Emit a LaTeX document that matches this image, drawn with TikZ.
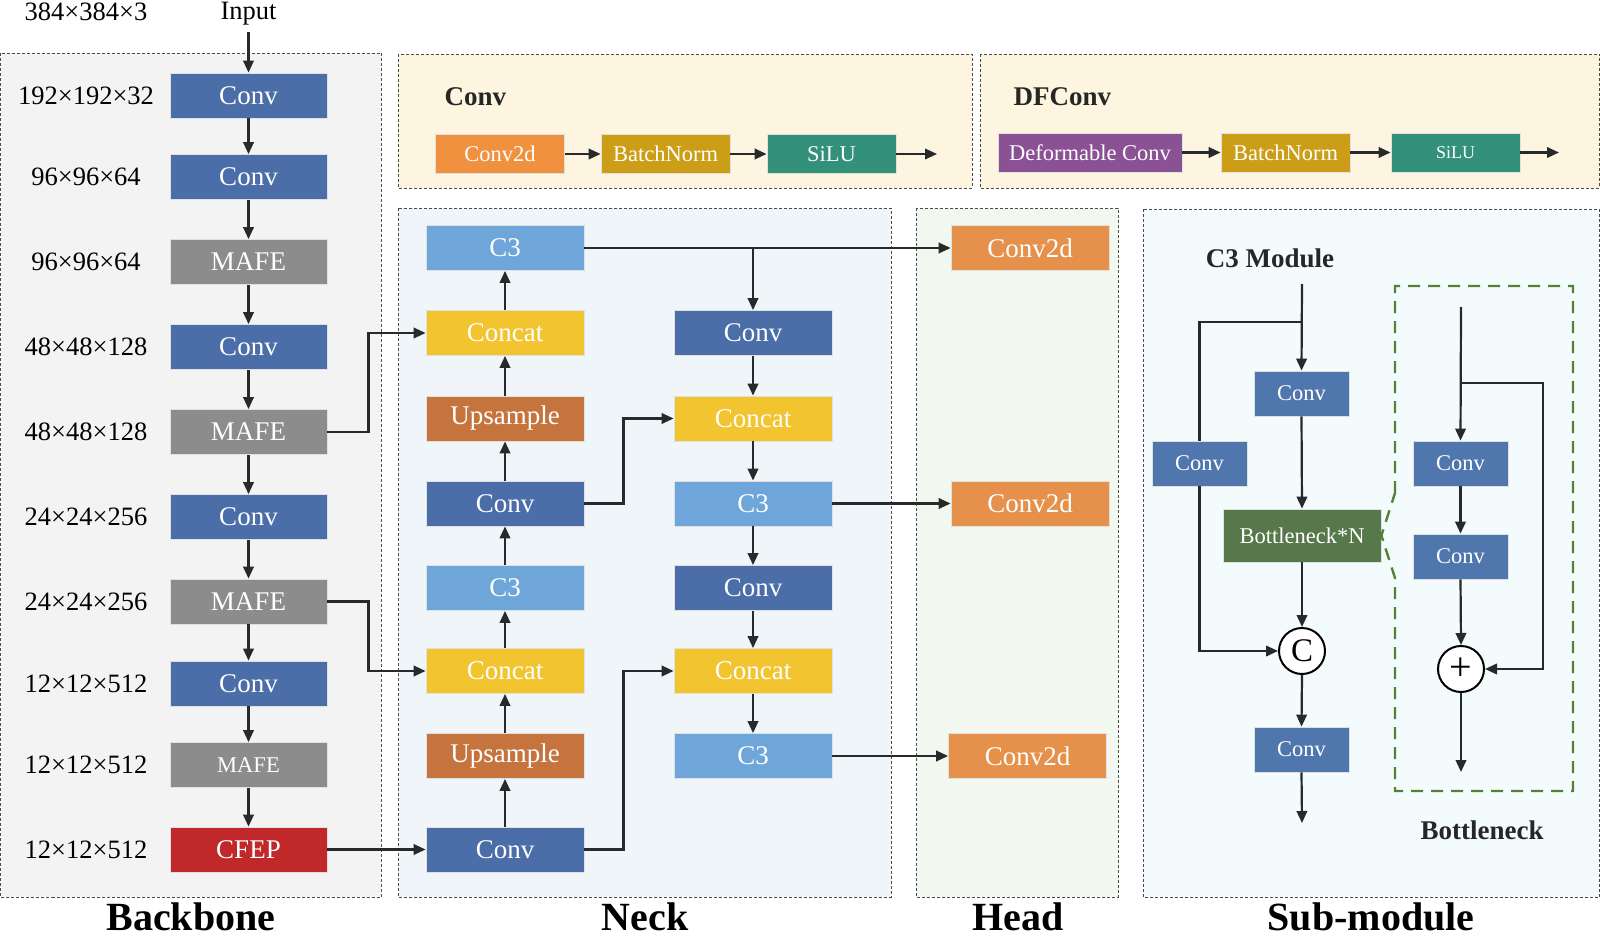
\documentclass[tikz,border=0pt]{standalone}
\usepackage{fontspec}
\setmainfont{Liberation Serif}
\usetikzlibrary{arrows.meta,calc}
\definecolor{convblue}{HTML}{4B6DA8}
\definecolor{subblue}{HTML}{5077AD}
\definecolor{mafegray}{HTML}{8C8C8C}
\definecolor{cfepred}{HTML}{C1282A}
\definecolor{cthree}{HTML}{6FA6D9}
\definecolor{concaty}{HTML}{F2C430}
\definecolor{upsamp}{HTML}{C5743D}
\definecolor{headorange}{HTML}{E6914B}
\definecolor{topconv}{HTML}{F0913F}
\definecolor{bnorm}{HTML}{CC9E18}
\definecolor{siluc}{HTML}{33907A}
\definecolor{deform}{HTML}{8B5195}
\definecolor{bneckg}{HTML}{56784A}
\definecolor{dashg}{HTML}{548235}
\definecolor{linec}{HTML}{262A2A}
\definecolor{bbfill}{HTML}{F3F3F3}
\definecolor{neckfill}{HTML}{F0F5FA}
\definecolor{headfill}{HTML}{F2F7EF}
\definecolor{subfill}{HTML}{F3FBFC}
\definecolor{topfill}{HTML}{FEF5E0}
\newcommand{\myfs}[1]{\fontsize{#1}{#1}\selectfont}
\tikzset{
  box/.style={rectangle, inner sep=0pt, minimum width=157pt, minimum height=45pt,
    text=white, draw=black!12, line width=0.8pt, font=\myfs{27}},
  nbox/.style={box, minimum width=158pt},
  sbox/.style={box, fill=subblue, minimum width=95pt, minimum height=45pt, font=\myfs{22.5}},
  tbox/.style={box, minimum width=129pt, minimum height=39pt, font=\myfs{22.5}},
  ar/.style={-{Triangle[length=12pt,width=10.5pt]}, line width=2.2pt, draw=linec},
  ln/.style={line width=2.2pt, draw=linec},
  panel/.style={draw=black!70, dash pattern=on 3pt off 2pt, line width=0.8pt},
  dimlab/.style={font=\myfs{26.5}, text=black},
  title/.style={font=\bfseries\myfs{27}, text=black!85},
  biglab/.style={font=\bfseries\myfs{40}, anchor=base, text depth=0pt},
  circ/.style={circle, draw=black, line width=2pt, fill=white, minimum size=46pt, inner sep=0pt},
}
\begin{document}
\begin{tikzpicture}[x=1pt,y=-1pt]
\useasboundingbox (0,0) rectangle (1600,941);
% panels
\draw[panel, fill=bbfill] (0.5,53) rectangle (381,897);
\draw[panel, fill=topfill] (398,54) rectangle (972,188);
\draw[panel, fill=topfill] (980,54) rectangle (1599.5,188);
\draw[panel, fill=neckfill] (398,208) rectangle (891,897);
\draw[panel, fill=headfill] (916,208) rectangle (1118,897);
\draw[panel, fill=subfill] (1143,209) rectangle (1599.5,897);

% ---------- Backbone ----------
\node[font=\myfs{26.5}, anchor=base] (inlab) at (248.5,20) {Input};
\node[dimlab, anchor=base] (d0) at (86,21) {384×384×3};
\coordinate (inp) at (248.5,32);
\node[box, fill=convblue] (b1) at (248.5,95.5) {Conv};
\node[box, fill=convblue] (b2) at (248.5,177) {Conv};
\node[box, fill=mafegray] (b3) at (248.5,262) {MAFE};
\node[box, fill=convblue] (b4) at (248.5,347) {Conv};
\node[box, fill=mafegray] (b5) at (248.5,432) {MAFE};
\node[box, fill=convblue] (b6) at (248.5,517) {Conv};
\node[box, fill=mafegray] (b7) at (248.5,601.5) {MAFE};
\node[box, fill=convblue] (b8) at (248.5,683.5) {Conv};
\node[box, fill=mafegray, font=\myfs{22.5}] (b9) at (248.5,765) {MAFE};
\node[box, fill=cfepred] (b10) at (248.5,849.5) {CFEP};
\node[dimlab] (d1) at (86,95.5) {192×192×32};
\node[dimlab] (d2) at (86,177) {96×96×64};
\node[dimlab] (d3) at (86,262) {96×96×64};
\node[dimlab] (d4) at (86,347) {48×48×128};
\node[dimlab] (d5) at (86,432) {48×48×128};
\node[dimlab] (d6) at (86,517) {24×24×256};
\node[dimlab] (d7) at (86,601.5) {24×24×256};
\node[dimlab] (d8) at (86,683.5) {12×12×512};
\node[dimlab] (d9) at (86,765) {12×12×512};
\node[dimlab] (d10) at (86,849.5) {12×12×512};
\draw[ar] (inp) -- (b1.north);
\foreach \a/\b in {b1/b2,b2/b3,b3/b4,b4/b5,b5/b6,b6/b7,b7/b8,b8/b9,b9/b10}
  \draw[ar] (\a.south) -- (\b.north);

% ---------- Top panels ----------
\node[title, anchor=west] (tconv) at (441,97) {Conv};
\node[tbox, fill=topconv] (tc1) at (500,154) {Conv2d};
\node[tbox, fill=bnorm] (tc2) at (665.5,154) {BatchNorm};
\node[tbox, fill=siluc] (tc3) at (831.5,154) {SiLU};
\coordinate (tcout) at (937,154);
\draw[ar] (tc1.east) -- (tc2.west);
\draw[ar] (tc2.east) -- (tc3.west);
\draw[ar] (tc3.east) -- (tcout);

\node[title, anchor=west] (tdf) at (1010,97) {DFConv};
\node[tbox, fill=deform, minimum width=184pt] (td1) at (1090,152.5) {Deformable Conv};
\node[tbox, fill=bnorm] (td2) at (1285.5,152.5) {BatchNorm};
\node[tbox, fill=siluc, font=\myfs{18}] (td3) at (1455.5,152.5) {SiLU};
\coordinate (tdout) at (1559,152.5);
\draw[ar] (td1.east) -- (td2.west);
\draw[ar] (td2.east) -- (td3.west);
\draw[ar] (td3.east) -- (tdout);

% ---------- Neck ----------
\node[nbox, fill=cthree] (lc3a) at (505,248) {C3};
\node[nbox, fill=concaty] (lcat1) at (505,333) {Concat};
\node[nbox, fill=upsamp] (lup1) at (505,418.5) {Upsample};
\node[nbox, fill=convblue] (lconv1) at (505,503.5) {Conv};
\node[nbox, fill=cthree] (lc3b) at (505,588) {C3};
\node[nbox, fill=concaty] (lcat2) at (505,671) {Concat};
\node[nbox, fill=upsamp] (lup2) at (505,756) {Upsample};
\node[nbox, fill=convblue] (lconv0) at (505,849.5) {Conv};

\node[nbox, fill=convblue] (rconv1) at (753,333) {Conv};
\node[nbox, fill=concaty] (rcat1) at (753,418.5) {Concat};
\node[nbox, fill=cthree] (rc3a) at (753,503.5) {C3};
\node[nbox, fill=convblue] (rconv2) at (753,588) {Conv};
\node[nbox, fill=concaty] (rcat2) at (753,671) {Concat};
\node[nbox, fill=cthree] (rc3b) at (753,756) {C3};

\foreach \a/\b in {lconv0/lup2,lup2/lcat2,lcat2/lc3b,lc3b/lconv1,lconv1/lup1,lup1/lcat1,lcat1/lc3a}
  \draw[ar] (\a.north) -- (\b.south);
\foreach \a/\b in {rconv1/rcat1,rcat1/rc3a,rc3a/rconv2,rconv2/rcat2,rcat2/rc3b}
  \draw[ar] (\a.south) -- (\b.north);

\draw[ar] (b10.east) -- (lconv0.west);
\draw[ar] (b5.east) -- ++(41,0) |- (lcat1.west);
\draw[ar] (b7.east) -- ++(41,0) |- (lcat2.west);
\draw[ar] (lconv1.east) -- ++(39,0) |- (rcat1.west);
\draw[ar] (lconv0.east) -- ++(39,0) |- (rcat2.west);

% ---------- Head ----------
\node[nbox, fill=headorange] (h1) at (1030,248) {Conv2d};
\node[nbox, fill=headorange] (h2) at (1030,503.5) {Conv2d};
\node[nbox, fill=headorange] (h3) at (1027.5,756) {Conv2d};
\draw[ar] (lc3a.east) -- (h1.west);
\draw[ar] (rconv1.north |- lc3a.east) -- (rconv1.north);
\draw[ar] (rc3a.east) -- (h2.west);
\draw[ar] (rc3b.east) -- (h3.west);

% ---------- Sub-module: C3 ----------
\node[title] (c3t) at (1270,258) {C3 Module};
\coordinate (c3in) at (1302,284);
\coordinate (c3br) at (1302,322);
\coordinate (c3out) at (1302,823);
\node[sbox] (sc1) at (1301.5,393.5) {Conv};
\node[sbox] (sc2) at (1199.5,463.5) {Conv};
\node[box, fill=bneckg, minimum width=158pt, minimum height=53pt, font=\myfs{22.5}] (sbn) at (1302,535.5) {Bottleneck*N};
\node[circ, font=\myfs{33}] (scC) at (1302,651) {C};
\node[sbox] (sc3) at (1301.5,749.5) {Conv};
\draw[ar] (c3in) -- (sc1.north);
\draw[ln] (c3br) -| (sc2.north);
\draw[ar] (sc2.south) |- (scC.west);
\draw[ar] (sc1.south) -- (sbn.north);
\draw[ar] (sbn.south) -- (scC.north);
\draw[ar] (scC.south) -- (sc3.north);
\draw[ar] (sc3.south) -- (c3out);

% ---------- Sub-module: Bottleneck ----------
\draw[dashg, line width=2.4pt, dash pattern=on 12pt off 8pt]
  (1395,493) -- (1395,286) -- (1573,286) -- (1573,791) -- (1395,791) -- (1395,578) -- (sbn.east) -- cycle;
\coordinate (bin) at (1461,307);
\coordinate (bbr) at (1461,383);
\coordinate (bout) at (1461,772);
\node[sbox] (bc1) at (1460.5,463.5) {Conv};
\node[sbox] (bc2) at (1460.5,556.5) {Conv};
\node[circ, font=\myfs{40}] (bplus) at (1461,669) {+};
\draw[ar] (bin) -- (bc1.north);
\draw[ar] (bc1.south) -- (bc2.north);
\draw[ar] (bc2.south) -- (bplus.north);
\draw[ar] (bplus.south) -- (bout);
\draw[ar] (bbr) -- (1543,383) |- (bplus.east);
\node[title] (bnt) at (1482,830) {Bottleneck};

% ---------- bottom labels ----------
\node[biglab] (lb1) at (191,930) {Backbone};
\node[biglab] (lb2) at (645,930) {Neck};
\node[biglab] (lb3) at (1018,930) {Head};
\node[biglab] (lb4) at (1371,930) {Sub-module};
\end{tikzpicture}
\end{document}
